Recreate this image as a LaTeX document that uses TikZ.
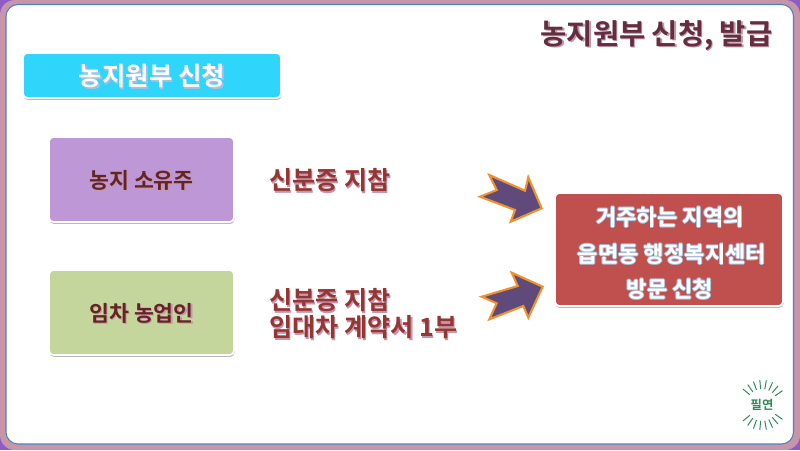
\documentclass[tikz,border=0pt]{standalone}
\usepackage{fontspec}
\setmainfont{Noto Sans CJK KR}[BoldFont={Noto Sans CJK KR Bold}]
\usetikzlibrary{shadows}
\definecolor{rimviolet}{HTML}{8E5CC4}
\definecolor{rimmauve}{HTML}{C795AA}
\definecolor{rimblue}{HTML}{4F81BD}
\definecolor{sealgreen}{HTML}{2E8B57}
\definecolor{applycyan}{HTML}{2FD5FB}
\definecolor{ownerviolet}{HTML}{BD97D6}
\definecolor{tenantgreen}{HTML}{C4D69C}
\definecolor{officered}{HTML}{BF504D}
\definecolor{notered}{HTML}{943634}
\definecolor{boxtext}{HTML}{632523}
\definecolor{titletext}{HTML}{632F3F}
\definecolor{arrowfill}{HTML}{604A7B}
\definecolor{arrowedge}{HTML}{F0922E}
% text with a soft copy of itself behind it
\newcommand{\shadowed}[3]{\rlap{\raisebox{-0.8pt}{\kern0.8pt\textcolor{#1}{#3}}}\textcolor{#2}{#3}}
\newcommand{\glowing}[2]{%
  \rlap{\kern0.5pt\textcolor{#1}{#2}}\rlap{\kern-0.5pt\textcolor{#1}{#2}}%
  \rlap{\raisebox{0.5pt}{\textcolor{#1}{#2}}}\rlap{\raisebox{-0.5pt}{\textcolor{#1}{#2}}}%
  \textcolor{white}{#2}}
\tikzset{
  panel/.style={draw=white,line width=1pt,rounded corners=2.4pt,inner sep=0pt,
    drop shadow={shadow xshift=0.3pt,shadow yshift=-1.1pt,opacity=0.55}},
  ownerbox/.style={panel,minimum width=3.7cm,minimum height=1.7cm,text height=10pt,text depth=0pt,
    font=\fontsize{12.3}{14}\selectfont\bfseries},
  notelabel/.style={font=\fontsize{14.3}{15.4}\selectfont\bfseries,anchor=west,inner sep=0pt},
  officeline/.style={font=\fontsize{12.6}{14}\selectfont\bfseries},
  blockarrow/.style={fill=arrowfill,draw=arrowedge,line width=1.2pt},
  sealray/.style={sealgreen,line width=0.55pt},
}
\begin{document}
\begin{tikzpicture}[x=0.02cm,y=-0.02cm]
  \useasboundingbox (0,0) rectangle (800,450);
  \fill[rimviolet] (0,0) rectangle (800,450);
  \fill[rimmauve,rounded corners=0.3cm] (0,0) rectangle (800,450);
  \draw[rimblue,fill=white,line width=0.6pt,rounded corners=0.24cm] (6,4.5) rectangle (793.5,444);

  \node[font=\fontsize{16.2}{18}\selectfont\bfseries] (title) at (656.5,36)
    {\shadowed{rimmauve}{titletext}{농지원부 신청, 발급}};
  \node[panel,fill=applycyan,minimum width=5.16cm,minimum height=0.9cm,text height=11.5pt,text depth=0pt,
    font=\fontsize{14.5}{16}\selectfont\bfseries] (apply) at (152,75.5)
    {\shadowed{rimblue!50}{white}{농지원부 신청}};

  \node[ownerbox,fill=ownerviolet] (owner) at (141.5,179.5) {\shadowed{rimmauve}{boxtext}{농지 소유주}};
  \node[ownerbox,fill=tenantgreen] (tenant) at (141.5,312.5) {\shadowed{rimmauve}{boxtext}{임차 농업인}};

  \node[notelabel] (ownernote) at (269,181) {\shadowed{rimmauve}{notered}{신분증 지참}};
  \node[notelabel] (tenantnote) at (269,301) {\shadowed{rimmauve}{notered}{신분증 지참}};
  \node[notelabel] (leasenote) at (269,328) {\shadowed{rimmauve}{notered}{임대차 계약서 1부}};

  \node[panel,fill=officered,minimum width=4.56cm,minimum height=2.26cm] (office) at (669,249.5) {};
  \node[officeline] (officea) at (670,217) {\glowing{rimblue!50}{거주하는 지역의}};
  \node[officeline] (officeb) at (672,254) {\glowing{rimblue!50}{읍면동 행정복지센터}};
  \node[officeline] (officec) at (670,289) {\glowing{rimblue!50}{방문 신청}};

  \draw[blockarrow] (541.7,208.3) -- (528.3,177.3) -- (525,190.7) -- (489.3,175) -- (496.7,190)
    -- (480,196.7) -- (515,210) -- (510.7,221.7) -- cycle;
  \draw[blockarrow] (542.7,286.7) -- (511.7,272.7) -- (517.7,286) -- (481.7,296.7) -- (496.7,303.3)
    -- (489.3,319.3) -- (523.3,306) -- (528.3,317.7) -- cycle;

  \node[font=\fontsize{7}{8}\selectfont\bfseries,text=sealgreen] (seal) at (762,405) {필연};
  \foreach \a in {35,50,...,145} {
    \draw[sealray] (seal.center) ++(\a:16) -- ++(\a:9);
    \draw[sealray] (seal.center) ++(-\a:16) -- ++(-\a:9);
  }
\end{tikzpicture}
\end{document}
